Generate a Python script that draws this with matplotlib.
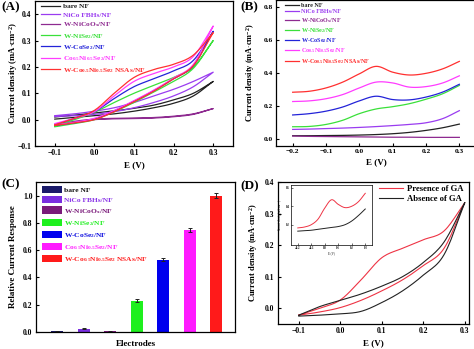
import numpy as np
import matplotlib
matplotlib.use("Agg")
import matplotlib.pyplot as plt
from matplotlib.patches import Patch

plt.rcParams['font.family'] = ['Liberation Serif', 'DejaVu Serif']
plt.rcParams['font.weight'] = 'bold'
plt.rcParams['mathtext.fontset'] = 'custom'
plt.rcParams['mathtext.rm'] = 'Liberation Serif:bold'
plt.rcParams['mathtext.it'] = 'Liberation Serif:bold'
plt.rcParams['mathtext.bf'] = 'Liberation Serif:bold'
plt.rcParams['axes.linewidth'] = 0.9

# ---------------- data ----------------
labels = ["bare NF", "NiCo FBHs/NF", "W-NiCoO$_x$/NF", "W-NiSe$_2$/NF",
          "W-CoSe$_2$/NF", "Co$_{0.5}$Ni$_{0.5}$Se$_2$/NF",
          "W-Co$_{0.5}$Ni$_{0.5}$Se$_2$ NSAs/NF"]
line_colors = ["#222222", "#9a3cf0", "#8e2a90", "#3ae03a", "#2323d8", "#ff3cff", "#ff3030"]
bar_colors = ["#1a1a6a", "#7a2ee0", "#7a1a7a", "#1ef01e", "#0000ee", "#ff1aff", "#ff1a1a"]
text_colors_c = ["#111111", "#8a35e8", "#7a1a7a", "#22ee22", "#1010e0", "#ff22ff", "#ff2020"]

# (A) cyclic voltammograms, potential in V
cv_E = [-0.1, -0.05, 0.0, 0.05, 0.1, 0.15, 0.2, 0.25, 0.3]
cv_fwd = [
    [0.010, 0.017, 0.025, 0.033, 0.043, 0.055, 0.075, 0.100, 0.145],
    [0.015, 0.022, 0.032, 0.045, 0.065, 0.090, 0.115, 0.145, 0.180],
    [-0.018, -0.006, 0.002, 0.005, 0.006, 0.008, 0.013, 0.022, 0.042],
    [-0.025, 0.000, 0.028, 0.065, 0.100, 0.130, 0.160, 0.200, 0.300],
    [-0.020, 0.005, 0.030, 0.080, 0.125, 0.155, 0.185, 0.225, 0.335],
    [-0.015, 0.005, 0.030, 0.090, 0.145, 0.175, 0.200, 0.240, 0.355],
    [-0.020, 0.005, 0.035, 0.100, 0.160, 0.190, 0.210, 0.245, 0.330],
]
cv_rev = [
    [0.002, 0.008, 0.015, 0.022, 0.032, 0.045, 0.062, 0.090, 0.145],
    [0.012, 0.015, 0.020, 0.030, 0.045, 0.065, 0.090, 0.125, 0.180],
    [-0.022, -0.010, 0.000, 0.003, 0.004, 0.006, 0.011, 0.020, 0.042],
    [-0.027, -0.015, 0.000, 0.030, 0.065, 0.105, 0.145, 0.195, 0.300],
    [-0.022, -0.012, 0.002, 0.033, 0.070, 0.110, 0.155, 0.205, 0.335],
    [-0.020, -0.010, 0.005, 0.035, 0.072, 0.112, 0.158, 0.210, 0.355],
    [-0.022, -0.012, 0.000, 0.030, 0.068, 0.108, 0.155, 0.205, 0.330],
]

# (B) differential pulse voltammograms
dpv_E = [-0.2, -0.15, -0.1, -0.05, 0.0, 0.05, 0.1, 0.15, 0.2, 0.25, 0.3]
dpv_j = [
    [0.022, 0.022, 0.023, 0.024, 0.026, 0.029, 0.034, 0.042, 0.054, 0.070, 0.092],
    [0.060, 0.062, 0.065, 0.068, 0.072, 0.077, 0.083, 0.090, 0.100, 0.125, 0.173],
    [0.020, 0.018, 0.017, 0.016, 0.015, 0.014, 0.013, 0.013, 0.012, 0.012, 0.012],
    [0.076, 0.078, 0.090, 0.115, 0.155, 0.183, 0.197, 0.215, 0.242, 0.275, 0.325],
    [0.147, 0.155, 0.170, 0.195, 0.232, 0.260, 0.240, 0.238, 0.255, 0.285, 0.332],
    [0.228, 0.232, 0.245, 0.270, 0.310, 0.345, 0.340, 0.315, 0.318, 0.340, 0.383],
    [0.284, 0.290, 0.310, 0.345, 0.395, 0.440, 0.405, 0.388, 0.398, 0.425, 0.470],
]

# (C) relative current response
rel_resp = [0.006, 0.025, 0.005, 0.23, 0.53, 0.75, 1.0]
rel_err = [0.003, 0.005, 0.002, 0.010, 0.012, 0.015, 0.020]

# (D) CV with / without GA
ga_E = [-0.1, -0.05, 0.0, 0.05, 0.1, 0.15, 0.2, 0.25, 0.3]
ga_on_fwd = [-0.022, 0.000, 0.026, 0.090, 0.160, 0.190, 0.217, 0.245, 0.335]
ga_on_rev = [-0.022, -0.012, 0.002, 0.025, 0.055, 0.090, 0.135, 0.190, 0.335]
ga_off_fwd = [-0.022, 0.005, 0.025, 0.045, 0.070, 0.100, 0.145, 0.210, 0.335]
ga_off_rev = [-0.025, -0.022, -0.018, -0.010, 0.018, 0.055, 0.105, 0.170, 0.335]

# inset DPV
ins_E = [-0.2, -0.15, -0.1, -0.05, 0.0, 0.05, 0.1, 0.15, 0.2, 0.25, 0.3]
ins_on = [0.165, 0.175, 0.200, 0.260, 0.380, 0.470, 0.420, 0.385, 0.400, 0.450, 0.540]
ins_off = [0.130, 0.135, 0.140, 0.150, 0.160, 0.170, 0.180, 0.200, 0.240, 0.300, 0.370]


def smooth(x, y, n=12):
    """Catmull-Rom curve through the given points."""
    x = np.asarray(x, float); y = np.asarray(y, float)
    P = np.column_stack([x, y])
    P = np.vstack([2 * P[0] - P[1], P, 2 * P[-1] - P[-2]])
    out = []
    t = np.linspace(0, 1, n, endpoint=False)[:, None]
    for i in range(1, len(P) - 2):
        p0, p1, p2, p3 = P[i - 1], P[i], P[i + 1], P[i + 2]
        seg = 0.5 * ((2 * p1) + (-p0 + p2) * t + (2 * p0 - 5 * p1 + 4 * p2 - p3) * t ** 2
                     + (-p0 + 3 * p1 - 3 * p2 + p3) * t ** 3)
        out.append(seg)
    out.append(P[-2][None, :])
    out = np.vstack(out)
    return out[:, 0], out[:, 1]


def loop(x, fwd, rev):
    xf, yf = smooth(x, fwd)
    xr, yr = smooth(x, rev)
    return np.concatenate([xf, xr[::-1]]), np.concatenate([yf, yr[::-1]])


W, H = 474, 349
fig = plt.figure(figsize=(W / 100, H / 100), dpi=100)


def add_ax(l, t, r, b):
    return fig.add_axes([l / W, 1 - b / H, (r - l) / W, (b - t) / H])


def style(ax, fs=5.5):
    ax.tick_params(direction='in', length=2.5, width=0.8, labelsize=fs, pad=2.5)
    ax.tick_params(top=False, right=False)


ylab = "Current density (mA$\\cdot$cm$^{-2}$)"

# ---------------- (A) ----------------
axA = add_ax(35, 1, 233, 146)
for f, r, c, lab in zip(cv_fwd, cv_rev, line_colors, labels):
    xx, yy = loop(cv_E, f, r)
    axA.plot(xx, yy, color=c, lw=0.9, label=lab)
axA.set_xlim(-0.15, 0.35)
axA.set_ylim(-0.1, 0.45)
axA.set_xticks([-0.1, 0.0, 0.1, 0.2, 0.3])
axA.set_yticks([-0.1, 0.0, 0.1, 0.2, 0.3, 0.4])
style(axA)
axA.set_xlabel("E (V)", fontsize=6.5, fontweight='bold', labelpad=3)
axA.set_ylabel(ylab, fontsize=6.2, fontweight='bold')
axA.yaxis.set_label_coords(-0.076, 0.5)
legA = axA.legend(loc='upper left', bbox_to_anchor=(0.02, 1.0), frameon=False,
                  fontsize=5.3, handlelength=2.5, handletextpad=0.45,
                  labelspacing=0.33, borderaxespad=0.2, borderpad=0.1)
for t, c in zip(legA.get_texts(), line_colors):
    t.set_color(c)
fig.text(1, H - 1, "(A)", fontsize=9.5, fontweight='bold', va='top', ha='left',
         transform=None)

# ---------------- (B) ----------------
axB = add_ax(276, 0, 476, 146)
for j, c, lab in zip(dpv_j, line_colors, labels):
    xx, yy = smooth(dpv_E, j)
    axB.plot(xx, yy, color=c, lw=0.9, label=lab)
axB.set_xlim(-0.25, 0.35)
axB.set_ylim(-0.04, 0.84)
axB.set_xticks([-0.2, -0.1, 0.0, 0.1, 0.2, 0.3])
axB.set_yticks([0.0, 0.2, 0.4, 0.6, 0.8])
style(axB, 5.3)
axB.set_xlabel("E (V)", fontsize=6.5, fontweight='bold', labelpad=3)
axB.set_ylabel(ylab, fontsize=6.0, fontweight='bold')
axB.yaxis.set_label_coords(-0.095, 0.5)
legB = axB.legend(loc='upper left', bbox_to_anchor=(0.035, 1.0), frameon=False,
                  fontsize=4.4, handlelength=2.2, handletextpad=0.4,
                  labelspacing=0.22, borderaxespad=0.3, borderpad=0.1)
for t, c in zip(legB.get_texts(), line_colors):
    t.set_color(c)
fig.text(240, H - 1, "(B)", fontsize=9.5, fontweight='bold', va='top', ha='left',
         transform=None)

# ---------------- (C) ----------------
axC = add_ax(36, 182, 235, 332)
pos = np.arange(1, len(rel_resp) + 1)
axC.bar(pos, rel_resp, width=0.45, color=bar_colors, yerr=rel_err,
        error_kw=dict(ecolor='#222222', elinewidth=0.7, capsize=1.6, capthick=0.7))
axC.set_xlim(0.2, 7.7)
axC.set_ylim(0, 1.1)
axC.set_xticks([])
axC.set_yticks([0.0, 0.2, 0.4, 0.6, 0.8, 1.0])
style(axC)
axC.set_xlabel("Electrodes", fontsize=6.5, fontweight='bold', labelpad=6)
axC.set_ylabel("Relative Current Response", fontsize=6.5, fontweight='bold')
axC.yaxis.set_label_coords(-0.095, 0.5)
handlesC = [Patch(facecolor=c, edgecolor='none') for c in bar_colors]
legC = axC.legend(handlesC, labels, loc='upper left', bbox_to_anchor=(0.02, 0.99),
                  frameon=False, fontsize=5.4, handlelength=2.6, handleheight=1.1,
                  handletextpad=0.3, labelspacing=0.42, borderaxespad=0.2, borderpad=0.1)
for t, c in zip(legC.get_texts(), text_colors_c):
    t.set_color(c)
fig.text(1, H - 178, "(C)", fontsize=9.5, fontweight='bold', va='top', ha='left',
         transform=None)

# ---------------- (D) ----------------
axD = add_ax(278, 182, 469, 324)
xx, yy = loop(ga_E, ga_on_fwd, ga_on_rev)
axD.plot(xx, yy, color='#ee3344', lw=0.8, label="Presence of GA")
xx, yy = loop(ga_E, ga_off_fwd, ga_off_rev)
axD.plot(xx, yy, color='#222222', lw=0.8, label="Absence of GA")
axD.set_xlim(-0.15, 0.31)
axD.set_ylim(-0.05, 0.4)
axD.set_xticks([-0.1, 0.0, 0.1, 0.2, 0.3])
axD.set_yticks([0.0, 0.1, 0.2, 0.3, 0.4])
style(axD)
axD.set_xlabel("E (V)", fontsize=6.5, fontweight='bold', labelpad=3)
axD.set_ylabel(ylab, fontsize=6.0, fontweight='bold')
axD.yaxis.set_label_coords(-0.094, 0.5)
axD.legend(loc='upper left', bbox_to_anchor=(0.51, 1.0), frameon=False,
           fontsize=6.2, handlelength=2.8, handletextpad=0.5,
           labelspacing=0.2, borderaxespad=0.3, borderpad=0.1)
fig.text(240, H - 180, "(D)", fontsize=9.5, fontweight='bold', va='top', ha='left',
         transform=None)

# inset
axI = add_ax(291, 185, 372, 245)
xx, yy = smooth(ins_E, ins_on)
axI.plot(xx, yy, color='#ee3344', lw=0.7)
xx, yy = smooth(ins_E, ins_off)
axI.plot(xx, yy, color='#222222', lw=0.7)
axI.set_xlim(-0.25, 0.35)
axI.set_ylim(-0.02, 0.63)
axI.set_xticks([-0.2, -0.1, 0.0, 0.1, 0.2, 0.3])
axI.set_yticks([0.2, 0.4, 0.6])
axI.tick_params(direction='in', length=1.2, width=0.4, labelsize=2.2, pad=1)
for s in axI.spines.values():
    s.set_linewidth(0.5)
axI.set_xlabel("E (V)", fontsize=2.2, labelpad=0.5)
axI.set_ylabel(ylab, fontsize=2.0, labelpad=0.5)

fig.savefig("out.png", dpi=100)
